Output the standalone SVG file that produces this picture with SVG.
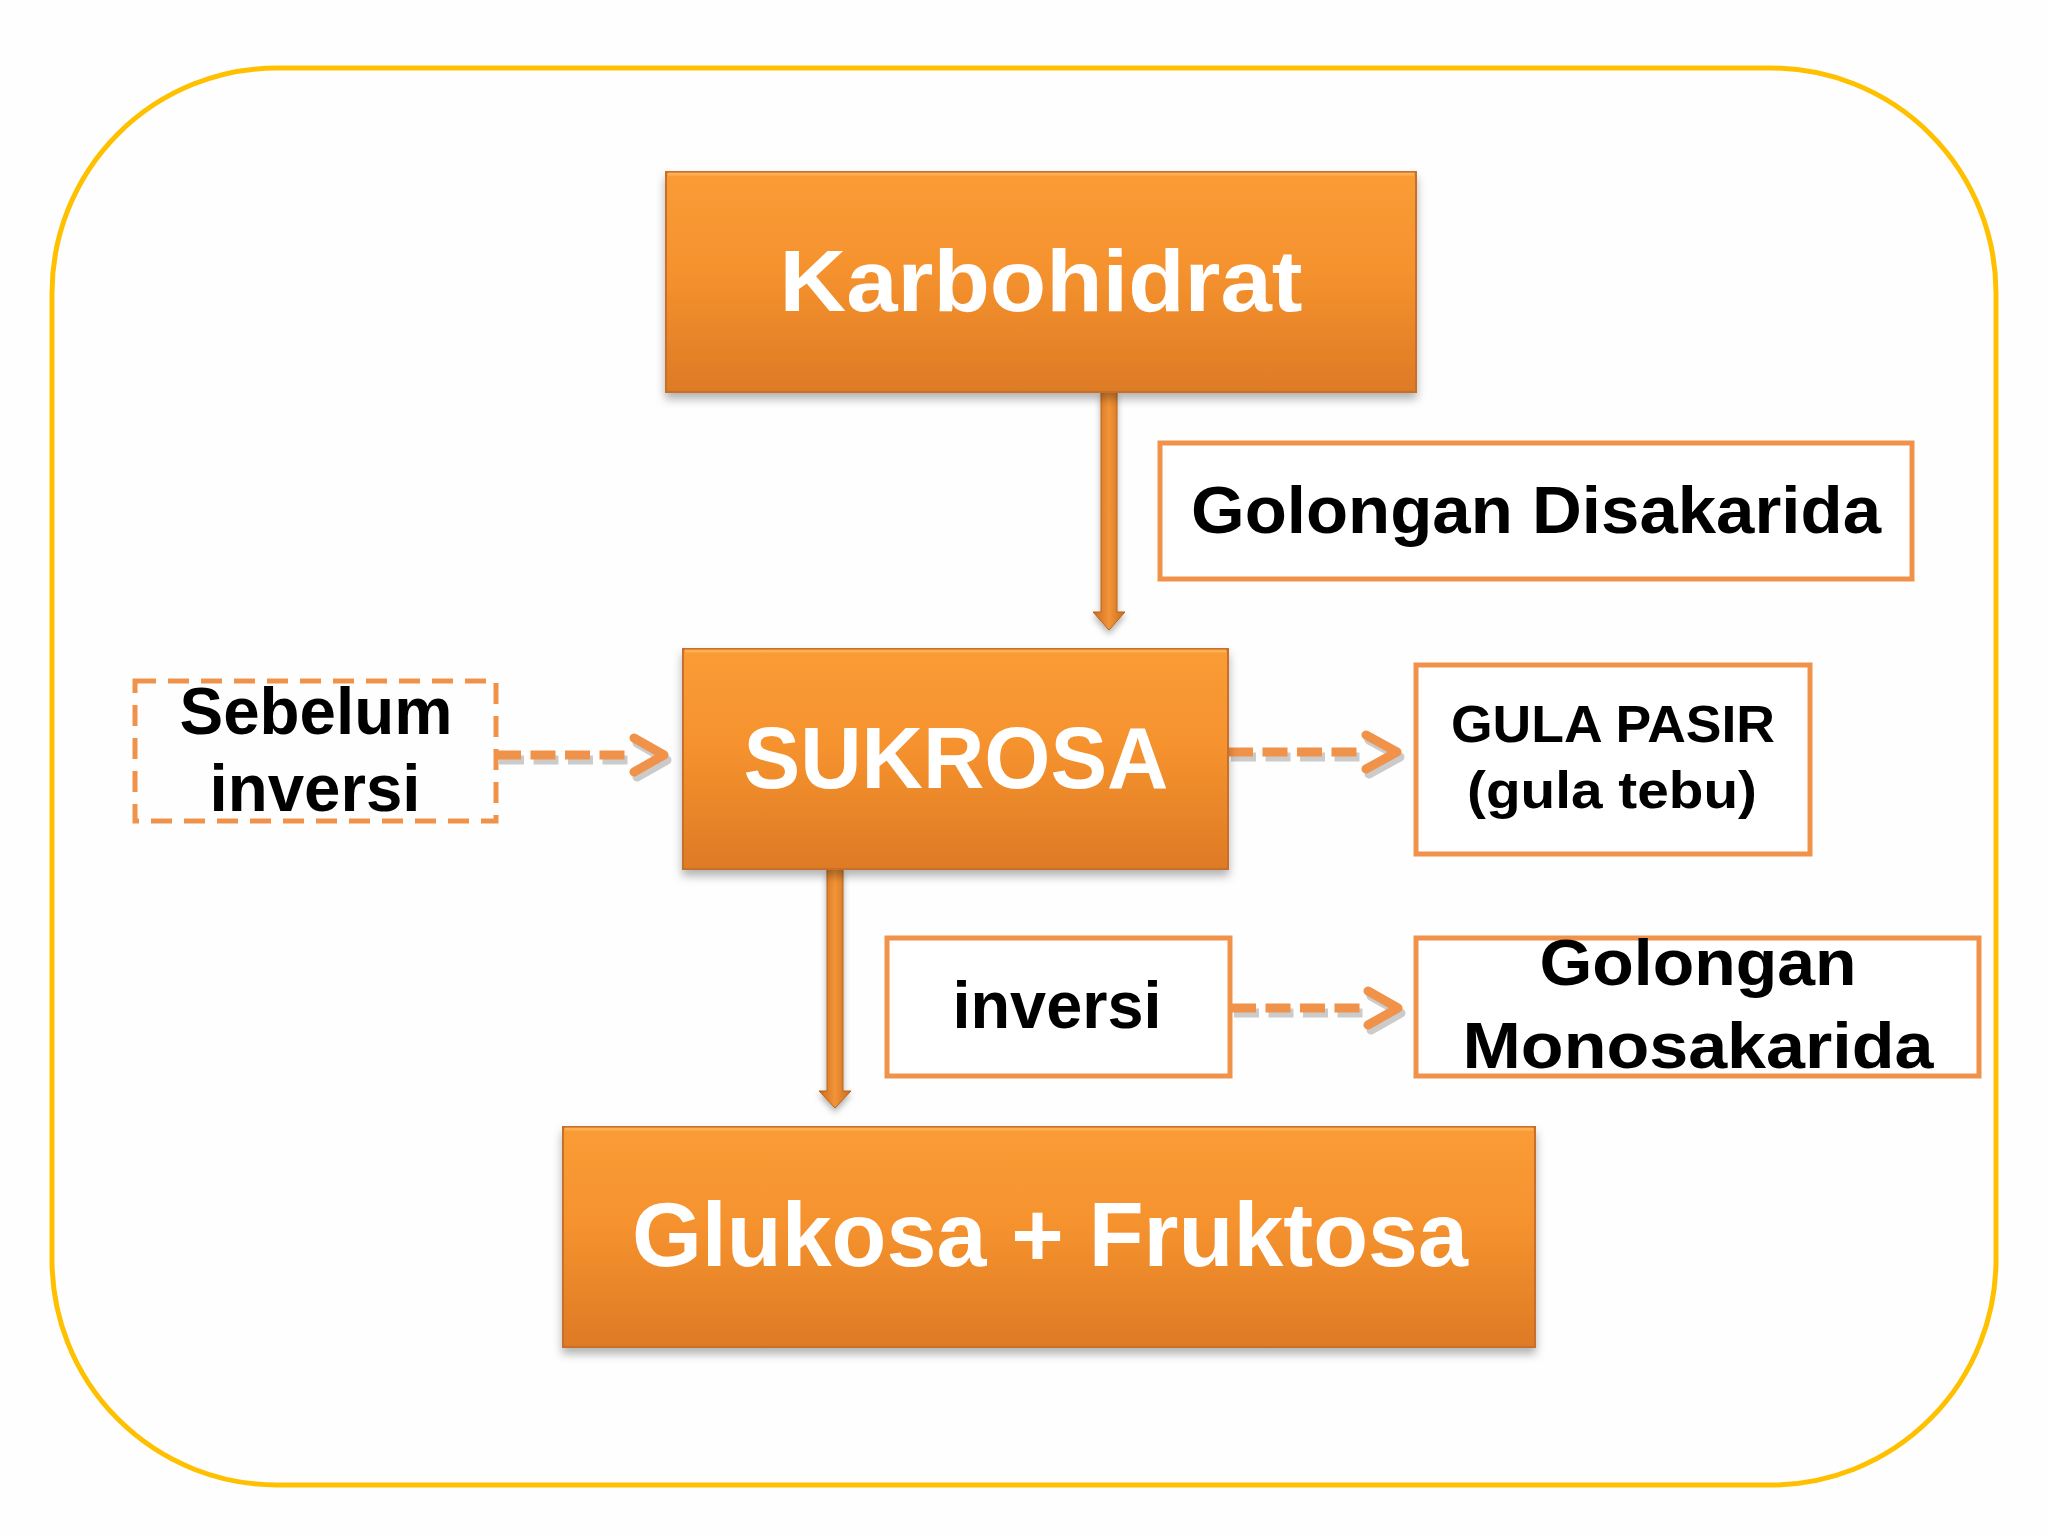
<svg xmlns="http://www.w3.org/2000/svg" width="2048" height="1536" viewBox="0 0 2048 1536">
<defs>
<linearGradient id="og" x1="0" y1="0" x2="0" y2="1">
<stop offset="0" stop-color="#FA9C36"/>
<stop offset="0.45" stop-color="#F5922E"/>
<stop offset="1" stop-color="#DE7A25"/>
</linearGradient>
<linearGradient id="ag" x1="0" y1="0" x2="1" y2="0">
<stop offset="0" stop-color="#C96A1E"/>
<stop offset="0.5" stop-color="#F29437"/>
<stop offset="1" stop-color="#C96A1E"/>
</linearGradient>
<filter id="sh" x="-10%" y="-10%" width="120%" height="130%">
<feDropShadow dx="0" dy="6" stdDeviation="5" flood-color="#000" flood-opacity="0.3"/>
</filter>
<filter id="sh2" x="-50%" y="-10%" width="200%" height="130%">
<feDropShadow dx="0" dy="4" stdDeviation="3" flood-color="#000" flood-opacity="0.3"/>
</filter>
<style>
.obox{fill:url(#og);stroke:#C8702A;stroke-width:2;filter:url(#sh)}
.bevel{fill:none;stroke:#FFB862;stroke-width:3;opacity:0.7}
.wbox{fill:#FFFFFF;stroke:#F0924A;stroke-width:5}
.dbox{fill:none;stroke:#F0924A;stroke-width:5;stroke-dasharray:21 12}
.wt{font-family:"Liberation Sans",Arial,sans-serif;font-weight:bold;fill:#FFFFFF;text-anchor:middle}
.bt{font-family:"Liberation Sans",Arial,sans-serif;font-weight:bold;fill:#000000;text-anchor:middle}
.dl{fill:none;stroke:#F0924A;stroke-width:9;stroke-dasharray:25 9.5}
.dls{fill:none;stroke:#A0A0A0;stroke-width:9;stroke-dasharray:25 9.5;opacity:0.55}
.ch{fill:none;stroke:#F0924A;stroke-width:9;stroke-linecap:round;stroke-linejoin:round}
.chs{fill:none;stroke:#A0A0A0;stroke-width:9;stroke-linecap:round;stroke-linejoin:round;opacity:0.55}
.sa{fill:url(#ag);stroke:#B8621C;stroke-width:1;filter:url(#sh2)}
</style>
</defs>
<rect x="0" y="0" width="2048" height="1536" fill="#FEFEFE"/>
<rect x="52" y="68" width="1944" height="1417" rx="225" ry="225" fill="none" stroke="#FFC000" stroke-width="5"/>

<g id="connectors">
<path class="sa" d="M1101 392 H1117 V612 H1125 L1109 630 L1093 612 H1101 Z"/>
<path class="sa" d="M827 869 H843 V1091 H851 L835 1108 L819 1091 H827 Z"/>
<g transform="translate(3,5)">
<path class="dls" d="M496 755 H627"/>
<path class="chs" d="M634 738 L664 755 L634 772"/>
<path class="dls" d="M1228 752 H1359"/>
<path class="chs" d="M1366 735 L1397 752 L1366 769"/>
<path class="dls" d="M1231 1008 H1362"/>
<path class="chs" d="M1368 991 L1398 1008 L1368 1025"/>
</g>
<path class="dl" d="M496 755 H627"/>
<path class="ch" d="M634 738 L664 755 L634 772"/>
<path class="dl" d="M1228 752 H1359"/>
<path class="ch" d="M1366 735 L1397 752 L1366 769"/>
<path class="dl" d="M1231 1008 H1362"/>
<path class="ch" d="M1368 991 L1398 1008 L1368 1025"/>
</g>

<g id="karbohidrat">
<rect class="obox" x="666" y="172" width="750" height="220"/>
<path class="bevel" d="M668 174 H1414"/>
<text class="wt" x="1041" y="311" font-size="88" textLength="523" lengthAdjust="spacingAndGlyphs">Karbohidrat</text>
</g>

<g id="golongan-disakarida">
<rect class="wbox" x="1160" y="443" width="752" height="136"/>
<text class="bt" x="1536" y="533" font-size="67" textLength="690" lengthAdjust="spacingAndGlyphs">Golongan Disakarida</text>
</g>

<g id="sebelum-inversi">
<rect class="dbox" x="135" y="681" width="361" height="140"/>
<text class="bt" x="316" y="734" font-size="66" textLength="273" lengthAdjust="spacingAndGlyphs">Sebelum</text>
<text class="bt" x="315" y="811" font-size="66" textLength="211" lengthAdjust="spacingAndGlyphs">inversi</text>
</g>

<g id="sukrosa">
<rect class="obox" x="683" y="649" width="545" height="220"/>
<path class="bevel" d="M685 651 H1226"/>
<text class="wt" x="956" y="788" font-size="88" textLength="425" lengthAdjust="spacingAndGlyphs">SUKROSA</text>
</g>

<g id="gula-pasir">
<rect class="wbox" x="1416" y="665" width="394" height="189"/>
<text class="bt" x="1613" y="742" font-size="52" textLength="324" lengthAdjust="spacingAndGlyphs">GULA PASIR</text>
<text class="bt" x="1612" y="808" font-size="52" textLength="290" lengthAdjust="spacingAndGlyphs">(gula tebu)</text>
</g>

<g id="inversi">
<rect class="wbox" x="887" y="938" width="343" height="138"/>
<text class="bt" x="1057" y="1028" font-size="66" textLength="209" lengthAdjust="spacingAndGlyphs">inversi</text>
</g>

<g id="golongan-monosakarida">
<rect class="wbox" x="1416" y="938" width="563" height="138"/>
<text class="bt" x="1698" y="985" font-size="64" textLength="317" lengthAdjust="spacingAndGlyphs">Golongan</text>
<text class="bt" x="1698" y="1068" font-size="64" textLength="471" lengthAdjust="spacingAndGlyphs">Monosakarida</text>
</g>

<g id="glukosa-fruktosa">
<rect class="obox" x="563" y="1127" width="972" height="220"/>
<path class="bevel" d="M565 1129 H1533"/>
<text class="wt" x="1050" y="1266" font-size="90" textLength="836" lengthAdjust="spacingAndGlyphs">Glukosa + Fruktosa</text>
</g>
</svg>
